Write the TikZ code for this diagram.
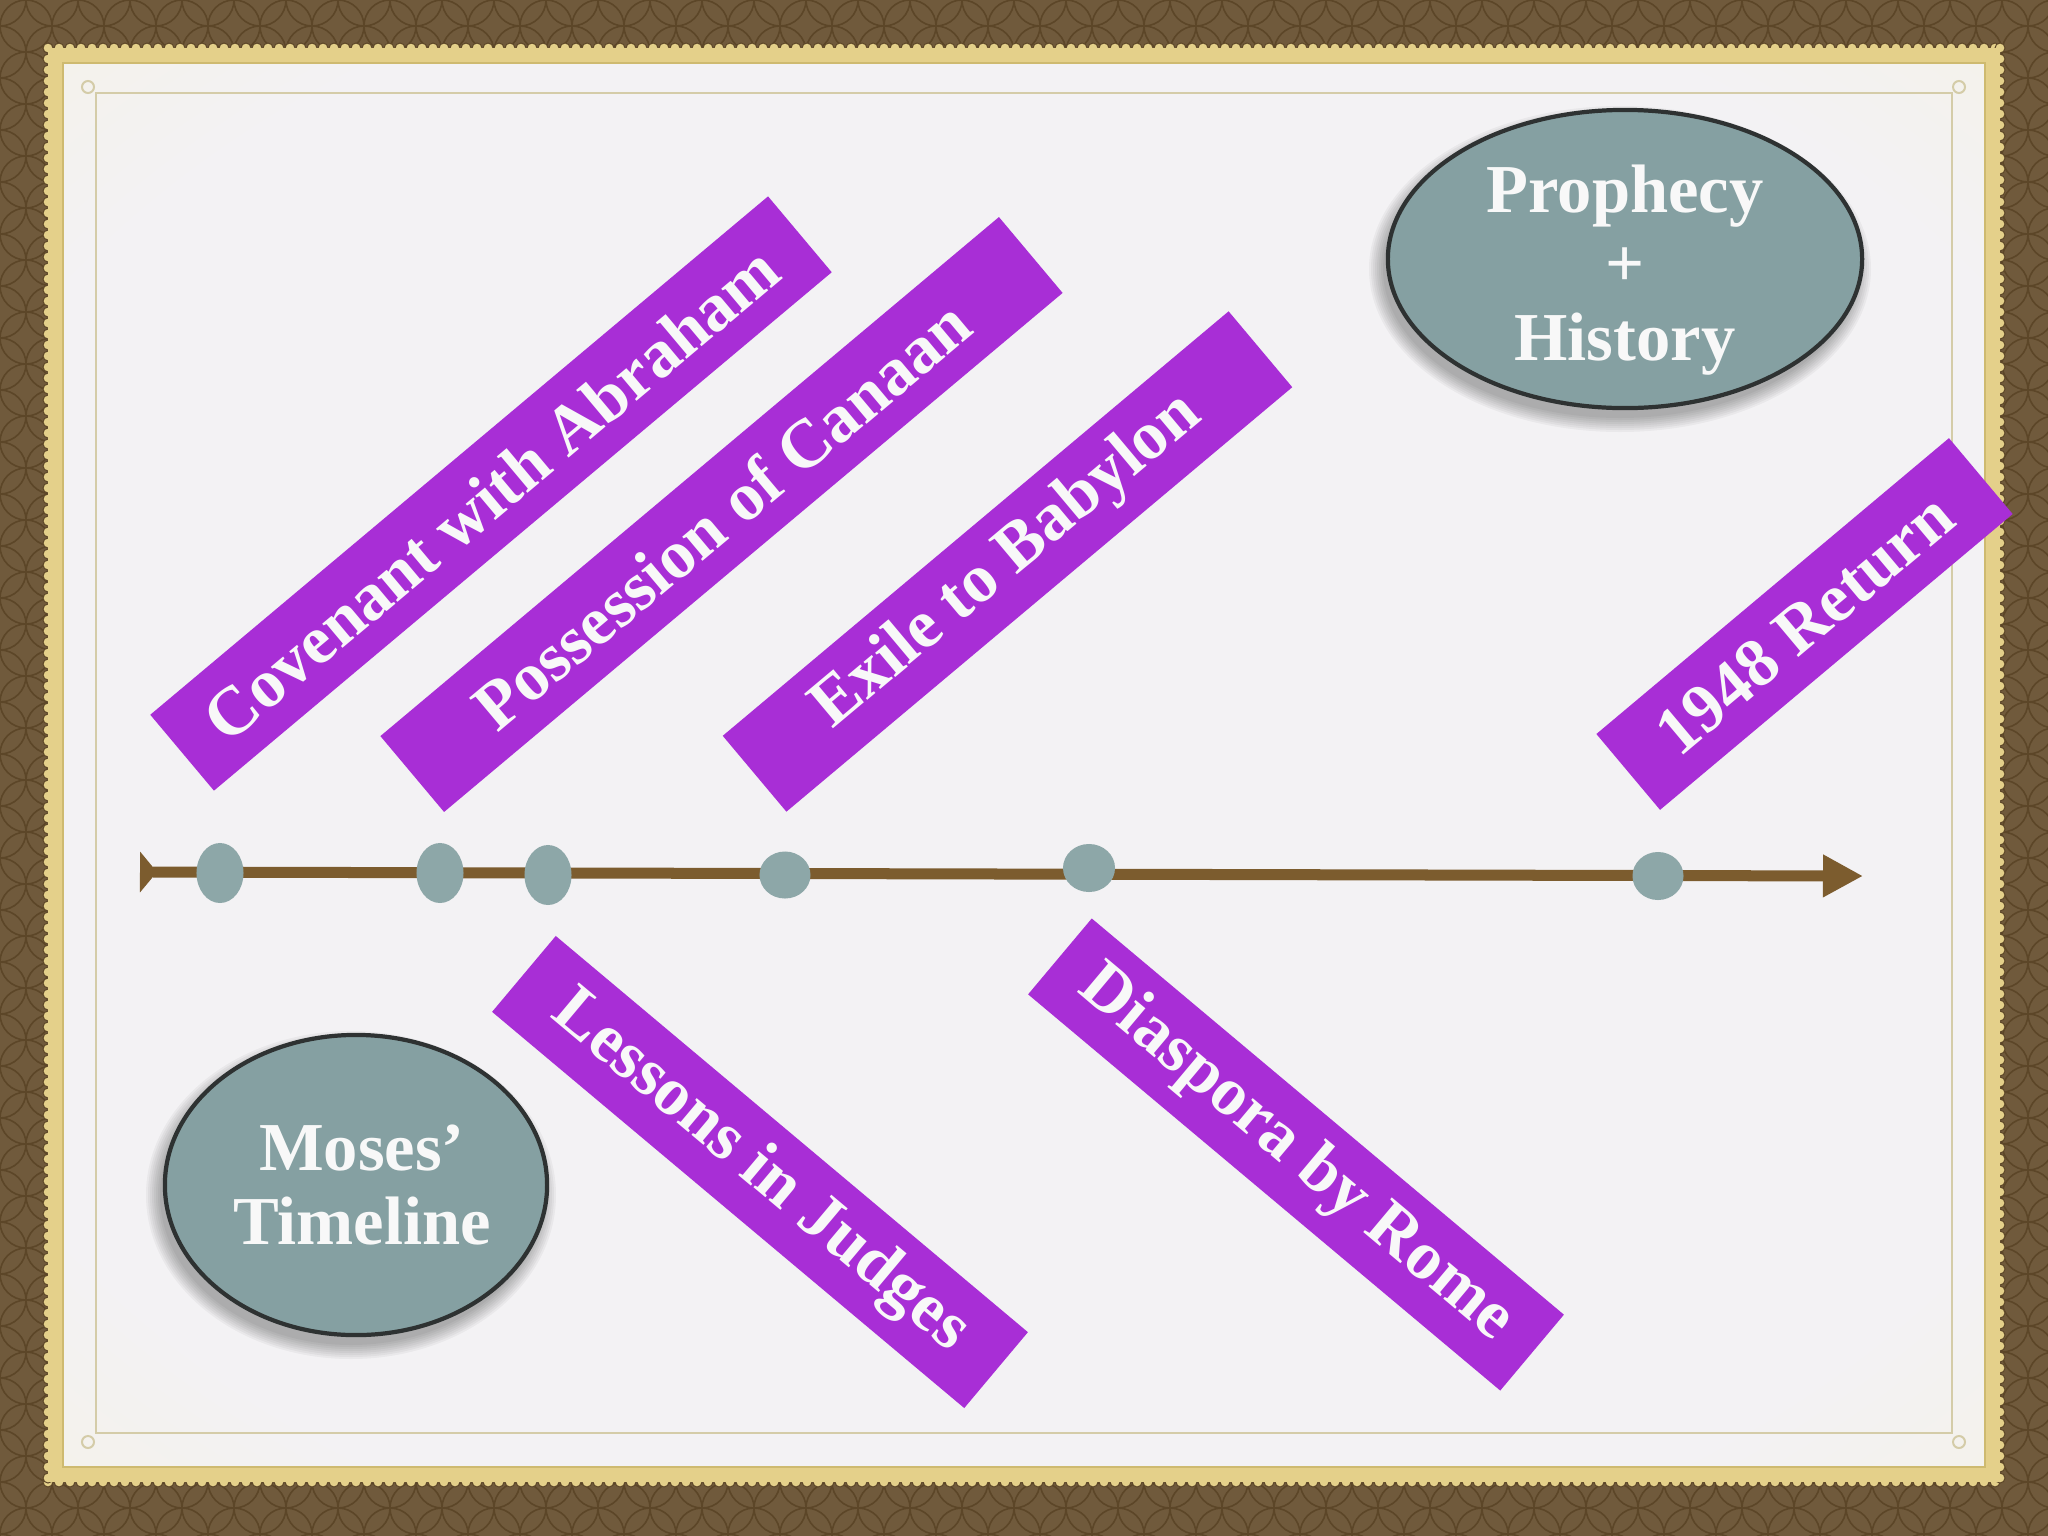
\documentclass[tikz,border=0pt]{standalone}
\usepackage{fontspec}
\setmainfont{Liberation Serif}
\usetikzlibrary{shapes.geometric,arrows.meta}

\definecolor{brownbg}{RGB}{112,90,60}
\definecolor{brownpat}{RGB}{92,70,40}
\definecolor{goldc}{RGB}{228,208,138}
\definecolor{goldline}{RGB}{206,186,112}
\definecolor{creamc}{RGB}{246,237,196}
\definecolor{creammid}{RGB}{245,241,224}
\definecolor{paperc}{RGB}{243,242,244}
\definecolor{thinline}{RGB}{212,204,168}
\definecolor{purplec}{RGB}{168,46,214}
\definecolor{timec}{RGB}{124,92,46}
\definecolor{dotc}{RGB}{141,167,168}
\definecolor{ellc}{RGB}{133,160,162}
\definecolor{ellborder}{RGB}{46,50,50}
\definecolor{txtc}{RGB}{248,248,248}

\pgfdeclareradialshading{papershade}{\pgfpoint{0bp}{0bp}}{color(0bp)=(paperc); color(30bp)=(paperc); color(43bp)=(creammid); color(50bp)=(creamc); color(72bp)=(creamc)}

\tikzset{
  bannerbox/.style={rectangle, fill=purplec, minimum height=9.9mm, inner sep=0pt, outer sep=0pt},
  lbl/.style={text=txtc, font=\fontsize{19.5}{21}\selectfont\bfseries, align=center, inner sep=0pt},
  dotnode/.style={ellipse, fill=dotc, inner sep=0pt, outer sep=0pt},
  bigell/.style={ellipse, fill=ellc, draw=ellborder, line width=1.2pt, inner sep=0pt},
  tline/.style={draw=timec, line width=1.1mm, {Triangle[reversed,length=1.7mm,width=4mm]}-{Triangle[length=4mm,width=4mm]}},
  scal/.style={fill=goldc, draw=brownpat, line width=0.1mm},
  pat/.style={draw=brownpat, line width=0.16mm}
}

\begin{document}
\begin{tikzpicture}[x=0.01cm,y=-0.01cm]
\useasboundingbox (0,0) rectangle (2048,1536);
% brown patterned border
\fill[brownbg] (0,0) rectangle (2048,1536);
\begin{scope}
\clip (0,0) rectangle (2048,1536);
\foreach \i in {0,...,40} {
  \foreach \j in {0,...,30} {
    \draw[pat] (\i*52,\j*52) circle[radius=26];
    \draw[pat] (\i*52+26,\j*52+26) circle[radius=26];
  }
}
\end{scope}
% scalloped gold frame
\foreach \x in {48,59,...,2000} {
  \filldraw[scal] (\x,48) circle[radius=5];
  \filldraw[scal] (\x,1482) circle[radius=5];
}
\foreach \y in {48,59,...,1482} {
  \filldraw[scal] (48,\y) circle[radius=5];
  \filldraw[scal] (2000,\y) circle[radius=5];
}
\fill[goldc] (48,48) rectangle (2000,1482);
\shade[shading=papershade] (63,63) rectangle (1985,1467);
\draw[goldline, line width=0.25mm] (63,63) rectangle (1985,1467);
% thin inner line with corner loops
\draw[thinline, line width=0.2mm] (96,93) rectangle (1952,1433);
\foreach \cx/\cy in {88/87, 1959/87, 88/1442, 1959/1442}
  \draw[thinline, line width=0.2mm] (\cx,\cy) circle[radius=6];

% ellipse shadows
\foreach \k in {0,...,7} {
  \fill[black, opacity=0.04] (1620,269) ellipse [x radius={251-2*\k}, y radius={163-2*\k}];
  \fill[black, opacity=0.04] (351,1195) ellipse [x radius={205-2*\k}, y radius={164-2*\k}];
}
% Prophecy + History
\node[bigell, minimum width=47.4mm, minimum height=29.8mm] (proph) at (1625,259) {};
\node[lbl] (propht) at (1625,270) {Prophecy\\+\\History};
% Moses' Timeline
\node[bigell, minimum width=38.2mm, minimum height=30mm] (moses) at (356,1185) {};
\node[lbl] (mosest) at (362,1185) {Moses’\\Timeline};

% timeline
\coordinate (tlA) at (140,872);
\coordinate (tlB) at (1863,876);
\draw[tline] (tlA) -- (tlB);
\node[dotnode, minimum width=4.7mm, minimum height=6mm] (d1) at (220,873) {};
\node[dotnode, minimum width=4.7mm, minimum height=6mm] (d2) at (440,873) {};
\node[dotnode, minimum width=4.7mm, minimum height=6mm] (d3) at (548,875) {};
\node[dotnode, minimum width=5.1mm, minimum height=4.7mm] (d4) at (785,875) {};
\node[dotnode, minimum width=5.2mm, minimum height=4.8mm] (d5) at (1089,868) {};
\node[dotnode, minimum width=5.1mm, minimum height=4.8mm] (d6) at (1658,876) {};

% banners
\node[bannerbox, minimum width=80.6mm, rotate=40] (b1) at (491,493.5) {};
\node[lbl, rotate=40] (b1t) at (b1.center) {Covenant with Abraham};

\node[bannerbox, minimum width=80.7mm, rotate=40] (b2) at (721.5,514.5) {};
\node[lbl, rotate=40] (b2t) at (b2.center) {Possession of Canaan};

\node[bannerbox, minimum width=66mm, rotate=40] (b3) at (1007.5,561.5) {};
\node[lbl, rotate=40] (b3t) at (b3.center) {Exile to Babylon};

\node[bannerbox, minimum width=46mm, rotate=40] (b4) at (1804.5,624) {};
\node[lbl, rotate=40] (b4t) at (b4.center) {1948 Return};

\node[bannerbox, minimum width=61.6mm, rotate=-40] (b5) at (760,1172) {};
\node[lbl, rotate=-40] (b5t) at (b5.center) {Lessons in Judges};

\node[bannerbox, minimum width=61.6mm, rotate=-40] (b6) at (1296,1154.5) {};
\node[lbl, rotate=-40] (b6t) at (b6.center) {Diaspora by Rome};
\end{tikzpicture}
\end{document}
